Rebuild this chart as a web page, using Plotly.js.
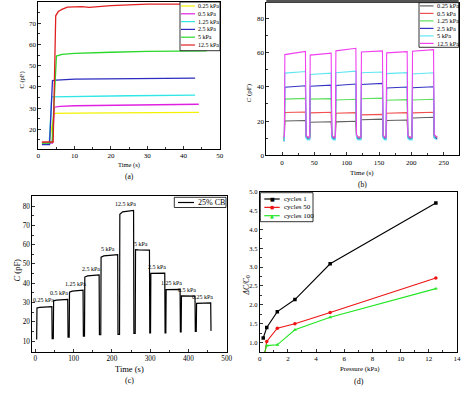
<!DOCTYPE html>
<html><head><meta charset="utf-8">
<script src="https://cdn.plot.ly/plotly-3.0.1.min.js"></script>
<style>html,body{margin:0;padding:0;background:#fff}#chart{width:474px;height:399px}</style>
</head><body><div id="chart"></div>
<script>
const W = 474, H = 399;
const FONT = 'Liberation Serif';

// ---------- Panel (a): response to a single step ----------
const aNames = ['0.25 kPa', '0.5 kPa', '1.25 kPa', '2.5 kPa', '5 kPa', '12.5 kPa'];
const aColors = ['#f2f200', '#e020e0', '#30e6e6', '#2c2cc0', '#2ad82a', '#e02020'];
const aTime025 = [1, 3, 3.6, 4.4, 10, 25, 44.3];
const aCap025  = [13.5, 13.5, 20, 27.5, 27.6, 27.8, 28];
const aTime05  = [1, 3.9, 4.4, 6, 10, 30, 44.2];
const aCap05   = [13.5, 13.5, 30.4, 30.8, 31.1, 31.5, 31.8];
const aTime125 = [1, 3, 3.7, 10, 25, 43.2];
const aCap125  = [13, 13, 35.3, 35.5, 35.8, 36.1];
const aTime25  = [1, 3.1, 3.9, 5, 10, 25, 43.2];
const aCap25   = [12.8, 12.8, 43, 43.2, 43.6, 43.9, 44.1];
const aTime5   = [1, 3, 3.8, 4.3, 5, 6.5, 10, 20, 30, 46.4];
const aCap5    = [13.5, 13.5, 14, 30, 54.5, 55.3, 55.8, 56.3, 56.7, 57];
const aTime12  = [1, 4.1, 4.8, 5.5, 6.5, 8, 12, 14, 20, 25, 30, 44];
const aCap12   = [14, 14, 73.5, 75.5, 76.5, 77.6, 77.8, 77.5, 78.3, 78.6, 79, 79];

// ---------- Panel (b): repeated loading ----------
const bColors = ['#606060', '#f05050', '#5ee05e', '#3434c4', '#5ee6f2', '#f040f0'];
const bRise = [3.6, 42.8, 82.5, 122, 161, 201];
const bFall = [36.5, 76.3, 114.5, 155.6, 193.8, 234.6];
const bLastTime = 240;
const b025On  = [20.0, 19.3, 19.5, 20.8, 20.3, 21.8];
const b025Off = [20.3, 19.6, 19.9, 21.1, 20.6, 22.2];
const b05On   = [25.0, 24.8, 24.6, 23.6, 24.6, 24.8];
const b05Off  = [25.3, 25.1, 24.9, 23.9, 24.9, 25.1];
const b125On  = [32.8, 32.8, 32.3, 33.0, 32.1, 32.3];
const b125Off = [33.2, 33.1, 32.7, 33.4, 32.5, 32.7];
const b25On   = [39.8, 40.3, 40.8, 41.3, 39.3, 39.4];
const b25Off  = [40.6, 41.0, 41.6, 42.0, 39.9, 40.0];
const b5On    = [48.0, 47.2, 48.2, 48.2, 47.7, 47.5];
const b5Off   = [48.9, 48.0, 49.1, 48.6, 48.3, 48.2];
const b12On   = [58.8, 58.5, 61.0, 60.3, 59.8, 60.8];
const b12Off  = [60.6, 59.6, 62.5, 61.0, 60.5, 61.7];
const bInit   = [10, 10, 9, 8.5, 8.5, 11];     // value before first loading
const bLowHi  = [11.5, 11.5, 11, 10.5, 10, 12]; // right after unloading
const bLowLo  = [10.5, 10.5, 10, 9.5, 9, 10.5]; // just before next loading

// ---------- Panel (c): stepwise loading / unloading ----------
const cLabels = ['0.25 kPa', '0.5 kPa', '1.25 kPa', '2.5 kPa', '5 kPa', '12.5 kPa', '5 kPa', '2.5 kPa', '1.25 kPa', '0.5 kPa', '0.25 kPa'];
const cRise = [3.5, 47, 88.5, 128.5, 171, 220, 261, 301, 341, 381, 420.5];
const cFall = [43.5, 85, 125, 167, 215.5, 257, 298.5, 338.5, 378.5, 417.5, 458.5];
const cOn   = [27.2, 30.9, 35.4, 43.2, 53.5, 75.8, 57.4, 45.1, 36.7, 33.4, 29.6];
const cMid  = [27.5, 31.2, 35.9, 43.8, 54.2, 77.0, 57.3, 45.15, 36.75, 33.35, 29.7];
const cOff  = [27.9, 31.6, 36.4, 44.3, 54.8, 77.8, 57.2, 45.2, 36.8, 33.3, 29.8];
const cLow  = [11.3, 12, 12.5, 13.3, 13.5, 14, 14.2, 14.3, 14.8, 15, 15.3];
const cInit = 10.8;

// ---------- Panel (d): ΔC/C0 vs pressure ----------
const dNames = ['cycles 1', 'cycles 50', 'cycles 100'];
const dColors = ['#000000', '#ee1414', '#22e622'];
const dSymbols = ['square', 'circle', 'triangle-up'];
const dPressure = [0.25, 0.5, 1.25, 2.5, 5, 12.5];
const dCycles1   = [1.12, 1.40, 1.82, 2.14, 3.09, 4.70];
const dCycles50  = [0.45, 1.03, 1.38, 1.50, 1.80, 2.71];
const dCycles100 = [0.62, 0.92, 0.94, 1.34, 1.67, 2.43];

// ---------- helpers ----------
const px = v => v / W;
const py = v => 1 - v / H;

function bSeries(on, off, init, hi, lo) {
  const x = [bRise[0] - 1.5], y = [init];
  for (let i = 0; i < bRise.length; i++) {
    x.push(bRise[i]); y.push(i === 0 ? init : lo);
    x.push(bRise[i] + 0.8); y.push(on[i]);
    x.push(bFall[i] - 0.3); y.push(off[i]);
    x.push(bFall[i] + 0.7); y.push(hi);
    if (i < bRise.length - 1) { x.push(bFall[i] + 3); y.push(lo); }
  }
  x.push(bLastTime); y.push(lo);
  return {x, y};
}
function cSeries() {
  const x = [], y = [];
  for (let i = 0; i < cRise.length; i++) {
    x.push(cRise[i]); y.push(i === 0 ? cInit : cLow[i - 1]);
    x.push(cRise[i] + 0.8); y.push(cOn[i]);
    x.push(cRise[i] + 8); y.push(cMid[i]);
    x.push(cFall[i] - 0.3); y.push(cOff[i]);
    x.push(cFall[i] + 0.5); y.push(cLow[i]);
  }
  return {x, y};
}

const traces = [];
const aT = [aTime025, aTime05, aTime125, aTime25, aTime5, aTime12];
const aC = [aCap025, aCap05, aCap125, aCap25, aCap5, aCap12];
for (let i = 0; i < 6; i++) {
  traces.push({x: aT[i], y: aC[i], xaxis: 'x', yaxis: 'y', mode: 'lines', name: aNames[i],
    line: {color: aColors[i], width: 1.3}, showlegend: false, hoverinfo: 'skip'});
}
const bOn = [b025On, b05On, b125On, b25On, b5On, b12On];
const bOff = [b025Off, b05Off, b125Off, b25Off, b5Off, b12Off];
for (let i = 0; i < 6; i++) {
  const s = bSeries(bOn[i], bOff[i], bInit[i], bLowHi[i], bLowLo[i]);
  traces.push({x: s.x, y: s.y, xaxis: 'x2', yaxis: 'y2', mode: 'lines', name: aNames[i],
    line: {color: bColors[i], width: 1.1}, showlegend: false, hoverinfo: 'skip'});
}
const cs = cSeries();
traces.push({x: cs.x, y: cs.y, xaxis: 'x3', yaxis: 'y3', mode: 'lines', name: '25% CB',
  line: {color: '#000', width: 1.2}, showlegend: false, hoverinfo: 'skip'});
const dY = [dCycles1, dCycles50, dCycles100];
for (let i = 0; i < 3; i++) {
  traces.push({x: dPressure, y: dY[i], xaxis: 'x4', yaxis: 'y4', mode: 'lines+markers', name: dNames[i],
    line: {color: dColors[i], width: 1.1}, marker: {color: dColors[i], symbol: dSymbols[i], size: 3.5},
    showlegend: false, hoverinfo: 'skip', cliponaxis: true});
}

function ax(domain, range, dtick, minor, fs, anchor, extra) {
  return Object.assign({
    domain, range, dtick, tick0: 0, anchor,
    showline: true, mirror: true, linecolor: '#000', linewidth: 1,
    ticks: 'inside', ticklen: 3, tickwidth: 0.8, tickcolor: '#000',
    showgrid: false, zeroline: false, fixedrange: true,
    tickfont: {family: FONT, size: fs, color: '#000'},
    minor: {ticks: 'inside', ticklen: 2, dtick: minor, tick0: 0, tickcolor: '#000', showgrid: false}
  }, extra || {});
}

const annotations = [];
const shapes = [];
function text(t, x, y, size, opt) {
  annotations.push(Object.assign({text: t, xref: 'paper', yref: 'paper', x: px(x), y: py(y),
    showarrow: false, font: {family: FONT, size, color: '#000'}, xanchor: 'center', yanchor: 'middle'}, opt || {}));
}
// axis titles & captions
text('Time (s)', 129, 165, 6.5);
text('(a)', 129, 177, 7.5);
text('C (pF)', 21.5, 80, 6.5, {textangle: -90});
text('Time (s)', 362, 173, 7);
text('(b)', 362, 184, 7.5);
text('<i>C</i> (pF)', 248.5, 93, 7, {textangle: -90});
text('Time (s)', 129, 369, 8.5);
text('(c)', 129, 380.5, 8);
text('<i>C</i> (pF)', 16.5, 270, 8.5, {textangle: -90});
text('Pressure (kPa)', 359, 369, 6.8);
text('(d)', 359, 381, 8);
text('<i>ΔC/C</i><sub>0</sub>', 246.5, 285, 7.5, {textangle: -90});

// panel (c) pressure labels
for (let i = 0; i < cLabels.length; i++) {
  annotations.push({text: cLabels[i], xref: 'x3', yref: 'y3', x: (cRise[i] + cFall[i]) / 2 - 3,
    y: Math.max(cOn[i], cOff[i]) + 0.6, showarrow: false, xanchor: 'center', yanchor: 'bottom',
    font: {family: FONT, size: 6, color: '#000'}});
}

// custom legends
function legendBox(x0, y0, x1, y1) {
  shapes.push({type: 'rect', xref: 'paper', yref: 'paper', x0: px(x0), x1: px(x1), y0: py(y1), y1: py(y0),
    line: {color: '#000', width: 0.8}, fillcolor: 'rgba(255,255,255,1)', layer: 'above'});
}
function legendLine(x0, x1, y, color) {
  shapes.push({type: 'line', xref: 'paper', yref: 'paper', x0: px(x0), x1: px(x1), y0: py(y), y1: py(y),
    line: {color, width: 1.2}, layer: 'above'});
}
legendBox(180, 2, 220, 50.7);
for (let i = 0; i < 6; i++) {
  const yy = 6 + i * 7.8;
  legendLine(181, 195, yy, aColors[i]);
  text(aNames[i], 196, yy, 6, {xanchor: 'left'});
}
shapes.push({type: 'rect', xref: 'paper', yref: 'paper', x0: px(266.3), x1: px(458.7), y0: py(2.7), y1: py(0),
  line: {width: 0}, fillcolor: '#555', layer: 'above'});
legendBox(419, 2.7, 458.7, 47.3);
for (let i = 0; i < 6; i++) {
  const yy = 5.9 + i * 7.5;
  legendLine(420, 433.5, yy, bColors[i]);
  text(aNames[i], 435, yy, 6.3, {xanchor: 'left'});
}
legendBox(174.3, 197.3, 226, 207.5);
legendLine(178, 194, 202.5, '#000');
text('25% CB', 195.5, 202.5, 8, {xanchor: 'left'});
legendBox(260.3, 192.7, 313, 221.7);
const dSym = ['■', '●', '▲'];
for (let i = 0; i < 3; i++) {
  const yy = 199 + i * 8.35;
  legendLine(264.3, 279.7, yy, dColors[i]);
  text(dSym[i], 272, yy, 5, {font: {family: 'DejaVu Sans', size: 5, color: dColors[i]}});
  text(dNames[i], 282, yy, 7, {xanchor: 'left'});
}

const layout = {
  width: W, height: H, margin: {l: 0, r: 0, t: 0, b: 0},
  paper_bgcolor: '#fff', plot_bgcolor: '#fff', showlegend: false,
  font: {family: FONT, color: '#000'},
  xaxis:  ax([px(38.3), px(219.8)], [0, 50], 10, 5, 7, 'y'),
  yaxis:  ax([py(149), py(2)], [10.7, 80], 10, 5, 7, 'x'),
  xaxis2: ax([px(266.3), px(458.7)], [-24.3, 273.2], 50, 25, 7, 'y2'),
  yaxis2: ax([py(155.3), py(2.7)], [0, 89.1], 20, 10, 7, 'x2'),
  xaxis3: ax([px(32.3), px(226.7)], [-7.9, 500], 100, 50, 7.2, 'y3'),
  yaxis3: ax([py(351.7), py(195.5)], [4.5, 85.5], 10, 5, 7.2, 'x3'),
  xaxis4: ax([px(259.7), px(457)], [0, 14], 2, 1, 7, 'y4'),
  yaxis4: ax([py(352), py(191.7)], [0.75, 5.0], 0.5, 0.25, 6.5, 'x4', {tickformat: '.1f'}),
  annotations, shapes
};
Plotly.newPlot('chart', traces, layout, {staticPlot: true, displayModeBar: false});
</script>
</body></html>
